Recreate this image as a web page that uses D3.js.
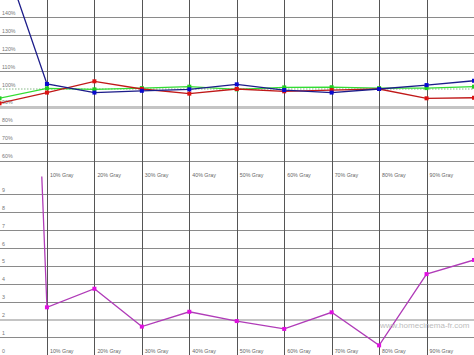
<!DOCTYPE html>
<html><head><meta charset="utf-8">
<script src="https://cdn.jsdelivr.net/npm/d3@7"></script>
<style>
html,body{margin:0;padding:0;background:#fff;overflow:hidden}
svg{display:block}
text{font-family:Arial,"Liberation Sans",sans-serif}
</style></head><body>
<svg id="c" width="474" height="355"></svg>
<script>
// ---- data ----
const steps = [0,10,20,30,40,50,60,70,80,90,100];
const xTicks = [10,20,30,40,50,60,70,80,90];
const xTickLabels = ["10% Gray","20% Gray","30% Gray","40% Gray","50% Gray","60% Gray","70% Gray","80% Gray","90% Gray"];
const gammaTicks = [60,70,80,90,100,110,120,130,140];
const deltaTicks = [0,1,2,3,4,5,6,7,8,9];
const redPct   = [92, 98, 104.3, 100, 97.4, 100, 98.7, 99.4, 100, 94.8, 95.1];
const greenPct = [94.8, 100.4, 99.8, 100.5, 101.3, 99.8, 100.9, 101, 100.5, 100.5, 101.3];
const bluePct  = [180, 102.8, 98, 99, 99.8, 102.6, 99.4, 98, 100, 102.2, 104.6];
const deltaE   = [70, 2.68, 3.72, 1.6, 2.43, 1.91, 1.47, 2.4, 0.55, 4.54, 5.33];

const W = 474, H = 355;
const svg = d3.select("#c");

const x = d3.scaleLinear().domain([0,100]).range([-0.5, 474]);
const yTop = d3.scaleLinear().domain([60,150]).range([160.6, -0.5]);
const yBot = d3.scaleLinear().domain([0,9]).range([355.2, 194.4]);

// clip paths
const defs = svg.append("defs");
defs.append("clipPath").attr("id","clipTop").append("rect").attr("x",-5).attr("y",0).attr("width",W+10).attr("height",178);
defs.append("clipPath").attr("id","clipBot").append("rect").attr("x",-5).attr("y",176.5).attr("width",W+10).attr("height",H-176.5);

// horizontal gridlines (axes)
function hAxis(scale, ticks, fmt, emph){
  const g = svg.append("g").attr("transform","translate(0,0)")
    .call(d3.axisRight(scale).tickValues(ticks).tickSize(W).tickFormat(fmt));
  g.select(".domain").remove();
  g.selectAll(".tick line")
    .attr("stroke", d => d===emph ? "#c4c4c4" : "#8a8a8a")
    .attr("stroke-width", d => d===emph ? 2.5 : 1)
    .attr("shape-rendering","crispEdges");
  g.selectAll(".tick text").attr("x",2).attr("dy",-3).attr("text-anchor","start")
    .attr("font-size",5.3).attr("fill","#777");
  return g;
}
const gTop = hAxis(yTop, gammaTicks, d => d+"%", 90);
gTop.selectAll(".tick").filter(d => d===100).select("line").attr("stroke","none");
const gBot = hAxis(yBot, deltaTicks, d => d, 2);

// vertical gridlines (axis)
const xa = svg.append("g").call(d3.axisBottom(x).tickValues(xTicks).tickSize(H).tickFormat(() => ""));
xa.select(".domain").remove();
xa.selectAll(".tick line").attr("stroke","#555").attr("shape-rendering","crispEdges");

// x labels, two rows
[177, 353].forEach(yy => {
  svg.append("g").selectAll("text").data(xTicks).join("text")
    .attr("x", d => x(d)+3).attr("y", yy)
    .attr("font-size",5.3).attr("fill","#666")
    .text((d,i) => xTickLabels[i]);
});

// 100% dotted reference
svg.append("line").attr("x1",0).attr("x2",W).attr("y1",yTop(100)).attr("y2",yTop(100))
  .attr("stroke","#88b888").attr("stroke-width",1).attr("stroke-dasharray","1.5,1.5");

// series
function series(vals, yS, clip, lineCol, markCol){
  const g = svg.append("g").attr("clip-path","url(#"+clip+")");
  const line = d3.line().x((d,i)=>x(steps[i])).y(d=>yS(d));
  g.append("path").attr("d", line(vals)).attr("fill","none")
    .attr("stroke", lineCol).attr("stroke-width",1.3);
  g.selectAll("rect").data(vals).join("rect")
    .attr("x",(d,i)=>x(steps[i])-2).attr("y",d=>yS(d)-2)
    .attr("width",4).attr("height",4).attr("fill",markCol);
}
series(greenPct, yTop, "clipTop", "#33dd33", "#22cc22");
series(redPct, yTop, "clipTop", "#c01818", "#dd1111");
series(bluePct, yTop, "clipTop", "#1c1c8a", "#0a0ad0");
series(deltaE, yBot, "clipBot", "#b03cb8", "#e010e0");

// watermark
svg.append("text").attr("x",380).attr("y",328).attr("font-size",8)
  .attr("fill","#bcbcbc").text("www.homecinema-fr.com");
</script>
</body></html>
